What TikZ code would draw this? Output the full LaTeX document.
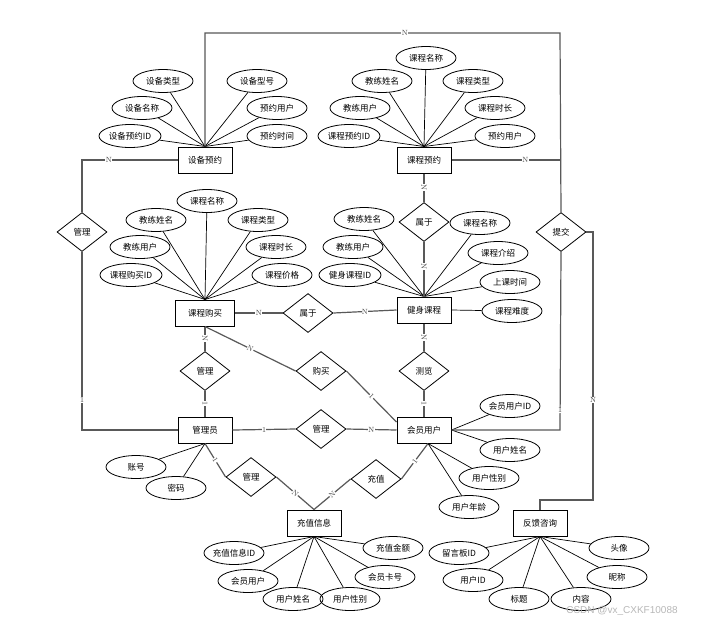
\documentclass[tikz,border=0pt]{standalone}
\usepackage{fontspec}
\newfontfamily\cjk{Noto Sans CJK SC}
\newfontfamily\wmfont{Liberation Sans}
\usetikzlibrary{shapes.geometric,calc}
\begin{document}
\begin{tikzpicture}[x=1pt,y=-1pt,
  txt/.style={font=\cjk\fontsize{8.5}{10}\selectfont},
  ent/.style={txt,draw,line width=1pt,minimum width=54pt,minimum height=26pt,inner sep=0pt},
  attr/.style={txt,draw,ellipse,line width=0.8pt,minimum width=60pt,minimum height=23pt,inner sep=0pt},
  rel/.style={txt,draw,diamond,line width=0.8pt,minimum width=50pt,minimum height=39pt,inner sep=0pt},
  al/.style={line width=0.7pt},
  rl/.style={line width=1.2pt,draw=black!65},
  lab/.style={font=\fontsize{7.5}{8}\selectfont,text=black!75,fill=white,inner sep=0.4pt}]
\useasboundingbox (0,0) rectangle (707,625);
\fill[white] (0,0) rectangle (707,625);

% entities
\node[ent] (sbyy) at (205,160) {设备预约};
\node[ent] (kcyy) at (424,160) {课程预约};
\node[ent,minimum width=59pt] (kcgm) at (205,313) {课程购买};
\node[ent] (jskc) at (424,310) {健身课程};
\node[ent] (gly) at (205,430) {管理员};
\node[ent] (hyyh) at (424,430) {会员用户};
\node[ent] (czxx) at (314,523) {充值信息};
\node[ent] (fkzx) at (540,523) {反馈咨询};

% relationships
\node[rel] (dgl1) at (82,232) {管理};
\node[rel] (dtj) at (561,232) {提交};
\node[rel] (dsy1) at (424,222) {属于};
\node[rel] (dsy2) at (308,313) {属于};
\node[rel] (dgl2) at (205,371) {管理};
\node[rel] (dgm) at (321,371) {购买};
\node[rel] (dll) at (424,371) {测览};
\node[rel] (dgl3) at (321,429) {管理};
\node[rel] (dgl4) at (251,477) {管理};
\node[rel] (dcz) at (376,479) {充值};

% attributes of 设备预约
\node[attr] (a11) at (163,81) {设备类型};
\node[attr] (a12) at (257,81) {设备型号};
\node[attr] (a13) at (142,108) {设备名称};
\node[attr] (a14) at (277,108) {预约用户};
\node[attr,minimum width=62pt] (a15) at (130,136) {设备预约ID};
\node[attr] (a16) at (277,136) {预约时间};
\foreach \a in {a11,a12,a13,a14,a15,a16} \draw[al] (\a) -- (sbyy.north);

% attributes of 课程预约
\node[attr] (b11) at (426,58) {课程名称};
\node[attr] (b12) at (382,81) {教练姓名};
\node[attr] (b13) at (473,81) {课程类型};
\node[attr] (b14) at (360,108) {教练用户};
\node[attr] (b15) at (495,108) {课程时长};
\node[attr,minimum width=62pt] (b16) at (349,136) {课程预约ID};
\node[attr] (b17) at (505,136) {预约用户};
\foreach \a in {b11,b12,b13,b14,b15,b16,b17} \draw[al] (\a) -- (kcyy.north);

% attributes of 课程购买
\node[attr] (c11) at (207,201) {课程名称};
\node[attr] (c12) at (156,220) {教练姓名};
\node[attr] (c13) at (258,220) {课程类型};
\node[attr] (c14) at (140,247) {教练用户};
\node[attr] (c15) at (276,247) {课程时长};
\node[attr,minimum width=62pt] (c16) at (131,275) {课程购买ID};
\node[attr] (c17) at (282,275) {课程价格};
\foreach \a in {c11,c12,c13,c14,c15,c16,c17} \draw[al] (\a) -- (kcgm.north);

% attributes of 健身课程
\node[attr] (d11) at (364,219) {教练姓名};
\node[attr] (d12) at (353,247) {教练用户};
\node[attr,minimum width=62pt] (d13) at (350,275) {健身课程ID};
\node[attr] (d14) at (480,223) {课程名称};
\node[attr] (d15) at (498,253) {课程介绍};
\node[attr] (d16) at (510,282) {上课时间};
\node[attr] (d17) at (512,311) {课程难度};
\foreach \a in {d11,d12,d13,d14,d15,d16} \draw[al] (\a) -- (jskc.north);
\draw[al] (d17) -- (jskc.east);

% attributes of 管理员
\node[attr] (e11) at (136,467) {账号};
\node[attr] (e12) at (176,488) {密码};
\foreach \a in {e11,e12} \draw[al] (\a) -- (gly.south);

% attributes of 会员用户
\coordinate (hyyhB) at ($(hyyh.south)+(4,0)$);
\node[attr] (f11) at (510,406) {会员用户ID};
\node[attr] (f12) at (510,450) {用户姓名};
\node[attr] (f13) at (489,478) {用户性别};
\node[attr] (f14) at (469,507) {用户年龄};
\foreach \a in {f11,f12} \draw[al] (\a) -- (hyyh.east);
\foreach \a in {f13,f14} \draw[al] (\a) -- (hyyhB);

% attributes of 充值信息
\node[attr] (g11) at (234,553) {充值信息ID};
\node[attr] (g12) at (248,581) {会员用户};
\node[attr] (g13) at (293,599) {用户姓名};
\node[attr] (g14) at (350,599) {用户性别};
\node[attr] (g15) at (385,577) {会员卡号};
\node[attr] (g16) at (393,548) {充值金额};
\foreach \a in {g11,g12,g13,g14,g15,g16} \draw[al] (\a) -- (czxx.south);

% attributes of 反馈咨询
\node[attr] (h11) at (459,553) {留言板ID};
\node[attr] (h12) at (473,580) {用户ID};
\node[attr] (h13) at (519,599) {标题};
\node[attr] (h14) at (581,599) {内容};
\node[attr] (h15) at (617,577) {昵称};
\node[attr] (h16) at (619,548) {头像};
\foreach \a in {h11,h12,h13,h14,h15,h16} \draw[al] (\a) -- (fkzx.south);

% relationship connectors
\coordinate (cT1) at (205,33);
\coordinate (cT2) at (560,33);
\coordinate (cR1) at (560,160);
\coordinate (cR2) at (560,430);
\coordinate (cR3) at (593,232);
\coordinate (cR4) at (593,500);
\coordinate (cR5) at (540,500);
\coordinate (cL1) at (82,160);
\coordinate (cL2) at (82,430);

\draw[rl] (sbyy.north) -- (cT1) -- node[lab,pos=0.563]{N} (cT2) -- (dtj.north);
\draw[rl] (kcyy.east) -- node[lab,pos=0.68]{N} (cR1);
\draw[rl] (dtj.south) -- node[lab,pos=0.89]{1} (cR2) -- (hyyh.east);
\draw[rl] (dtj.east) -- (cR3) -- node[lab,pos=0.627]{N} (cR4) -- (cR5) -- (fkzx.north);
\draw[rl] (sbyy.west) -- node[lab,pos=0.72]{N} (cL1) -- (dgl1.north);
\draw[rl] (dgl1.south) -- node[lab,pos=0.83]{1} (cL2) -- (gly.west);

\draw[rl] (kcyy.south) -- node[lab,sloped]{N} (dsy1.north);
\draw[rl] (dsy1.south) -- node[lab,sloped,pos=0.45]{N} (jskc.north);
\draw[rl] (kcgm.east) -- node[lab]{N} (dsy2.west);
\draw[rl] (dsy2.east) -- node[lab]{N} (jskc.west);

\draw[rl] (kcgm.south) -- node[lab,sloped]{N} (dgl2.north);
\draw[rl] (dgl2.south) -- node[lab,sloped]{1} (gly.north);
\draw[rl] (kcgm.south) -- node[lab,sloped]{N} (dgm.west);
\draw[rl] (dgm.east) -- node[lab,sloped]{1} ($(hyyh.west)+(0,-8)$);
\draw[rl] (jskc.south) -- node[lab,sloped]{N} (dll.north);
\draw[rl] (dll.south) -- node[lab,sloped]{1} (hyyh.north);
\draw[rl] (gly.east) -- node[lab]{1} (dgl3.west);
\draw[rl] (dgl3.east) -- node[lab]{N} (hyyh.west);

\draw[rl] (gly.south) -- node[lab,sloped]{1} (dgl4.west);
\draw[rl] (dgl4.east) -- node[lab,sloped]{N} (czxx.north);
\draw[rl] (hyyhB) -- node[lab,sloped]{1} (dcz.east);
\draw[rl] (dcz.west) -- node[lab,sloped]{N} (czxx.north);

% watermark
\node[font=\wmfont\fontsize{10}{12}\selectfont,text=black!28] (wm) at (622,611) {CSDN @vx\_CXKF10088};
\end{tikzpicture}
\end{document}
